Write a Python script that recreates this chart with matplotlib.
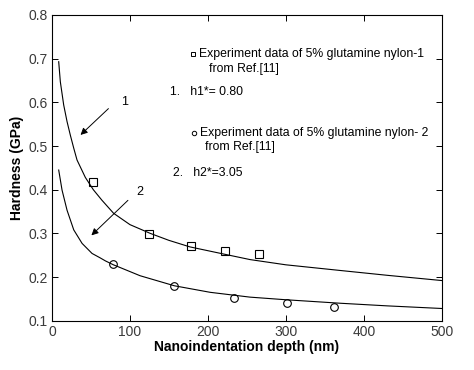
import matplotlib
matplotlib.use("Agg")
import matplotlib.pyplot as plt

plt.rcParams['font.family'] = ['Liberation Sans', 'DejaVu Sans']

depth_nylon1 = [52, 125, 178, 222, 266]
hard_nylon1 = [0.417, 0.299, 0.272, 0.260, 0.253]
depth_nylon2 = [78, 157, 234, 302, 362]
hard_nylon2 = [0.229, 0.180, 0.151, 0.141, 0.131]

# model curves, sampled from the figure
curve1_x = [8.6, 10.7, 15, 19.3, 23.5, 27.9, 32.1, 42.8, 47.2, 53, 64, 79, 100, 126,
            150, 177, 222, 254, 300, 370, 430, 500]
curve1_y = [0.693, 0.647, 0.594, 0.556, 0.525, 0.495, 0.468, 0.428, 0.416, 0.400, 0.376,
            0.346, 0.320, 0.300, 0.284, 0.269, 0.252, 0.240, 0.228, 0.215, 0.204, 0.192]
curve2_x = [8.6, 12.9, 19.3, 27.9, 38.6, 51.4, 61.7, 68.5, 78.8, 85.7, 113, 157, 203,
            254, 300, 370, 430, 500]
curve2_y = [0.445, 0.399, 0.353, 0.308, 0.277, 0.254, 0.244, 0.237, 0.228, 0.223, 0.203,
            0.180, 0.165, 0.154, 0.148, 0.140, 0.134, 0.128]

fig = plt.figure(figsize=(4.74, 3.70), dpi=100)
ax = fig.add_axes([0.1097, 0.1332, 0.8222, 0.8263])

ax.plot(curve1_x, curve1_y, color='black', lw=0.8)
ax.plot(curve2_x, curve2_y, color='black', lw=0.8)
ax.plot(depth_nylon1, hard_nylon1, 's', ms=5.5, mfc='none', mec='black', mew=0.8)
ax.plot(depth_nylon2, hard_nylon2, 'o', ms=5.5, mfc='none', mec='black', mew=0.8)

# arrows and curve labels
ax.annotate('', xy=(34, 0.521), xytext=(75, 0.590),
            arrowprops=dict(arrowstyle='-|>', color='black', lw=0.7, mutation_scale=10))
ax.text(89, 0.601, '1', fontsize=9, va='center')
ax.annotate('', xy=(48, 0.291), xytext=(100, 0.380),
            arrowprops=dict(arrowstyle='-|>', color='black', lw=0.7, mutation_scale=10))
ax.text(108, 0.394, '2', fontsize=9, va='center')

# annotation block
fs = 8.8
ax.plot([181], [0.710], 's', ms=3.2, mfc='none', mec='black', mew=0.7)
ax.text(188, 0.710, 'Experiment data of 5% glutamine nylon-1', fontsize=fs, va='center')
ax.text(201, 0.677, 'from Ref.[11]', fontsize=fs, va='center')
ax.text(152, 0.624, '1.   h1*= 0.80', fontsize=fs, va='center')
ax.plot([182], [0.530], 'o', ms=3.2, mfc='none', mec='black', mew=0.7)
ax.text(190, 0.530, 'Experiment data of 5% glutamine nylon- 2', fontsize=fs, va='center')
ax.text(196, 0.498, 'from Ref.[11]', fontsize=fs, va='center')
ax.text(155, 0.439, '2.   h2*=3.05', fontsize=fs, va='center')

ax.set_xlim(0, 500)
ax.set_ylim(0.1, 0.8)
ax.set_xticks([0, 100, 200, 300, 400, 500])
ax.set_yticks([0.1, 0.2, 0.3, 0.4, 0.5, 0.6, 0.7, 0.8])
ax.set_yticklabels(['0.1', '0.2', '0.3', '0.4', '0.5', '0.6', '0.7', '0.8'])
ax.tick_params(direction='in', length=4, width=0.7, top=True, right=True,
               labelsize=10, labelcolor='#3a3a3a', pad=3)
for s in ax.spines.values():
    s.set_linewidth(0.8)

ax.set_xlabel('Nanoindentation depth (nm)', fontsize=10, fontweight='bold', labelpad=1)
ax.set_ylabel('Hardness (GPa)', fontsize=10, fontweight='bold', labelpad=3)

fig.savefig('out.png', dpi=100)
